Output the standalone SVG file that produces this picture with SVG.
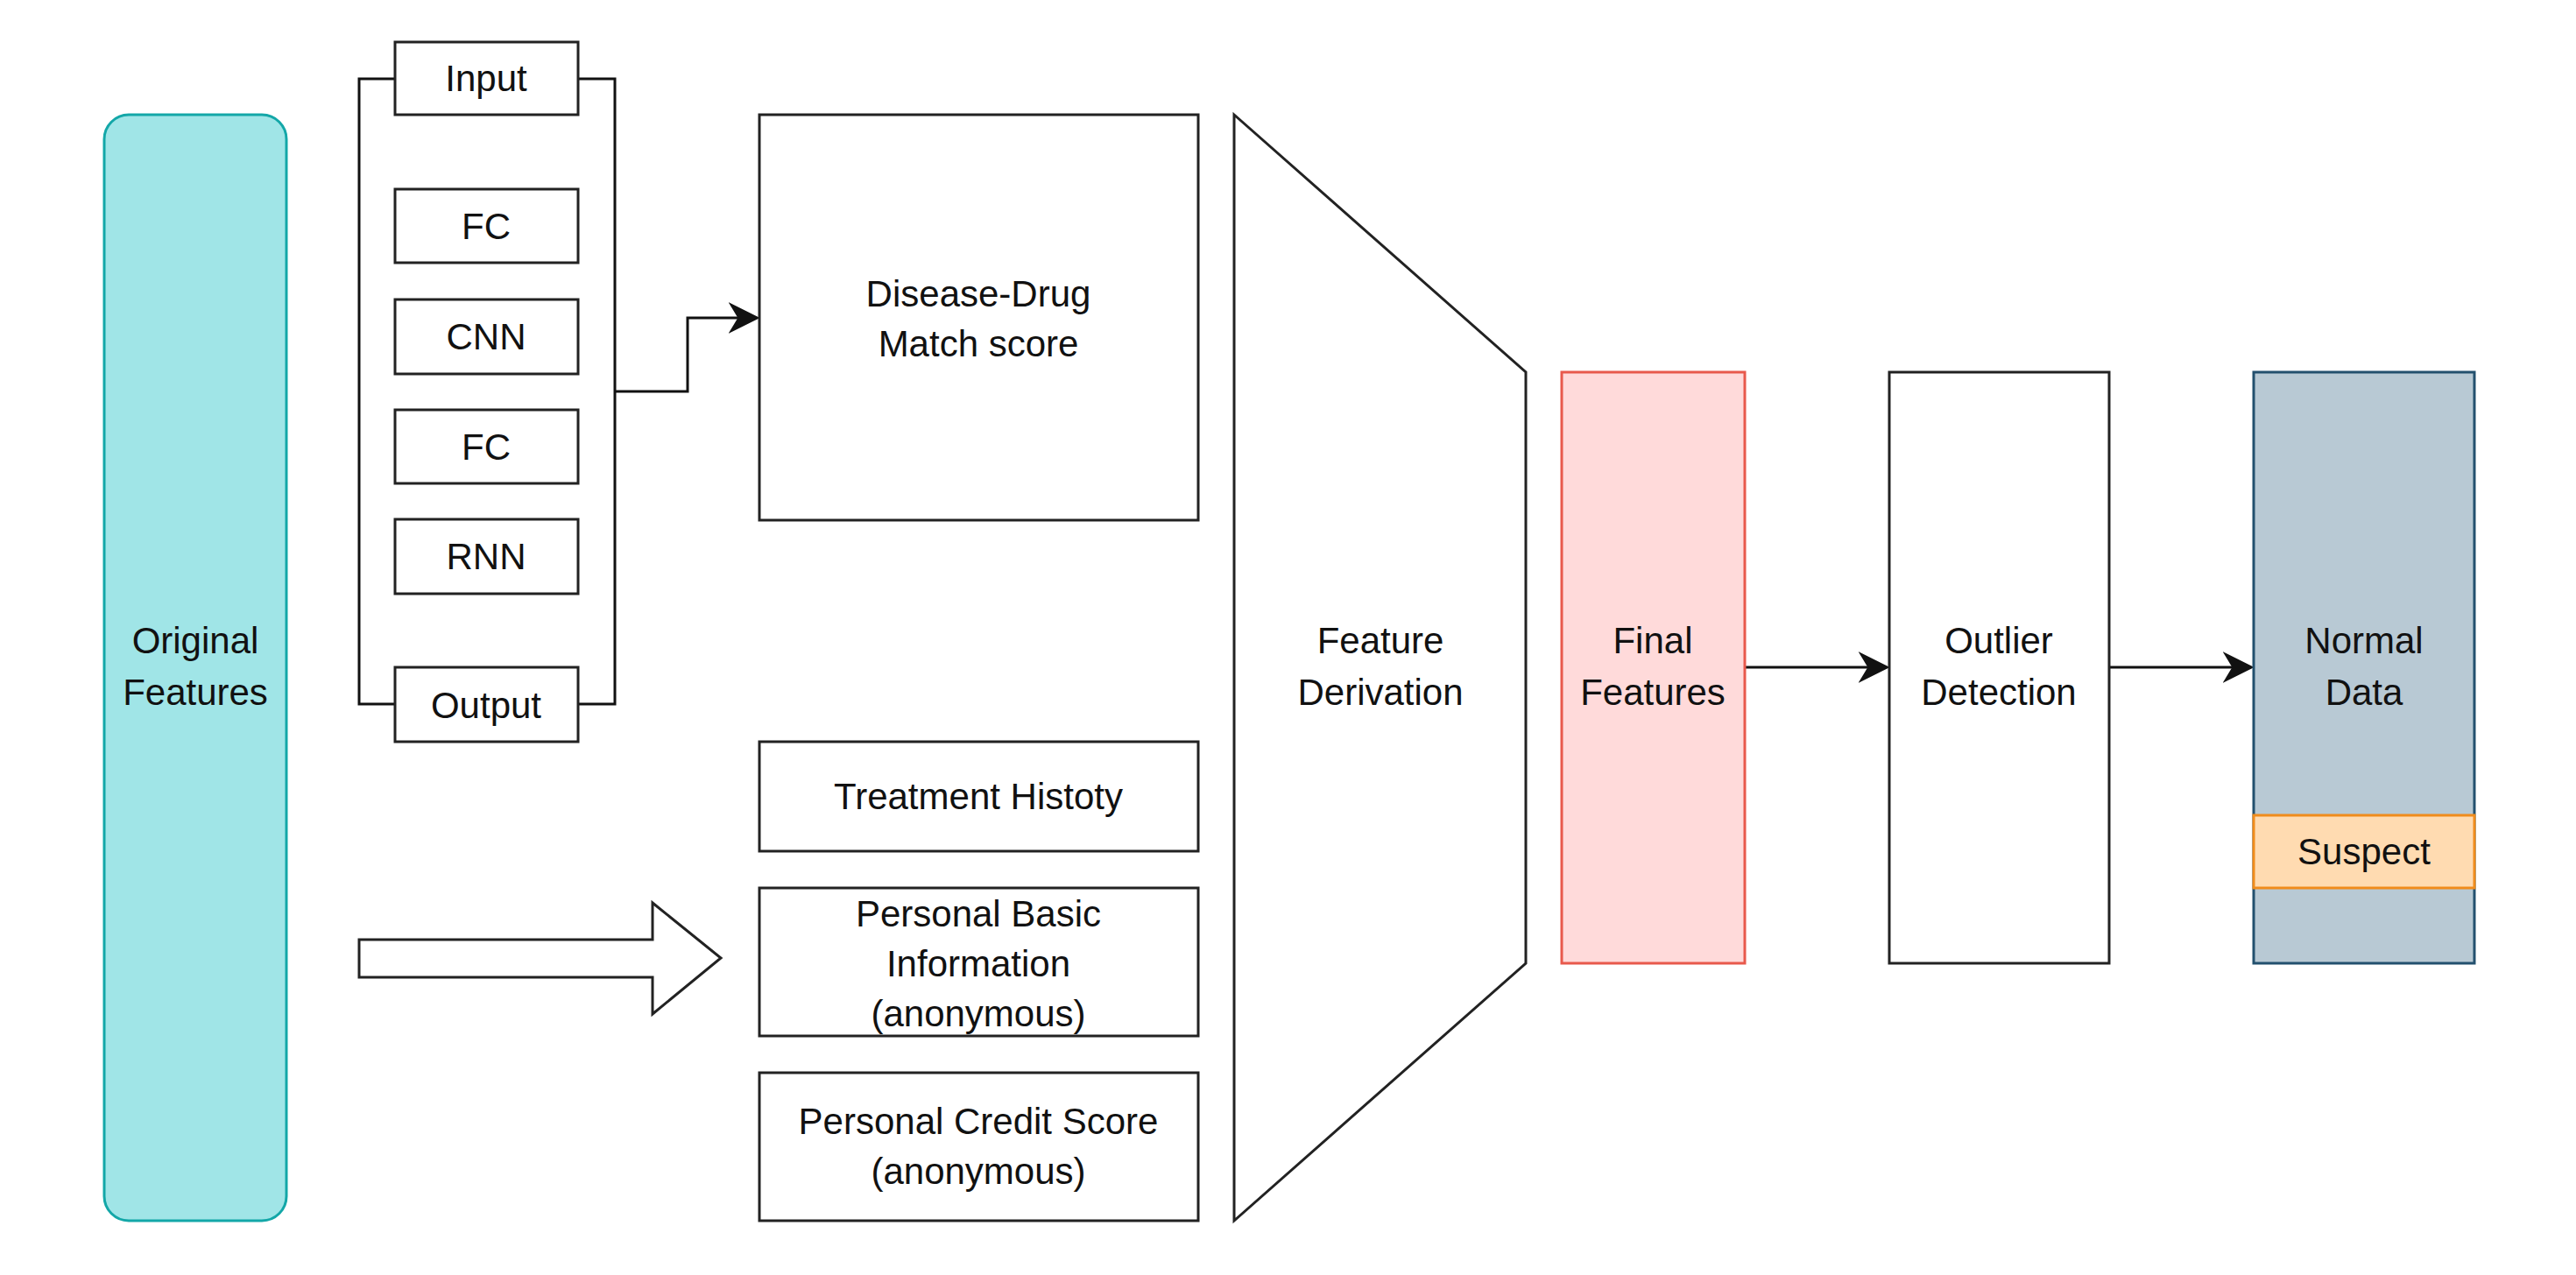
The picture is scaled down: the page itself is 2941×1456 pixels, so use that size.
<svg xmlns="http://www.w3.org/2000/svg" width="2941" height="1456" viewBox="0 0 2941 1456">
<defs>
<style>
text{font-family:"Liberation Sans",Arial,sans-serif;font-size:42px;fill:#111;text-anchor:middle}
.b{fill:#fff;stroke:#222;stroke-width:3}
.c{fill:none;stroke:#111;stroke-width:3}
</style>
<marker id="ah" viewBox="0 0 10 10" refX="9" refY="5" markerWidth="10" markerHeight="10" markerUnits="userSpaceOnUse" orient="auto"><path d="M0,0 L10,5 L0,10 L3,5 Z" fill="#111"/></marker>
<marker id="ah2" viewBox="0 0 10 10" refX="9" refY="5" markerWidth="36" markerHeight="36" markerUnits="userSpaceOnUse" orient="auto"><path d="M0,0 L10,5 L0,10 L3,5 Z" fill="#111"/></marker>
</defs>
<rect width="2941" height="1456" fill="#fff"/>
<g id="connectors">
<path class="c" d="M451,90 H410 V804 H451"/>
<path class="c" d="M660,90 H702 V804 H660"/>
<path class="c" d="M702,447 H785 V363 H864" marker-end="url(#ah2)"/>
<path class="c" d="M1992,762 H2154" marker-end="url(#ah2)"/>
<path class="c" d="M2408,762 H2570" marker-end="url(#ah2)"/>
<path d="M410,1073 H745 V1031 L823,1094 L745,1158 V1116 H410 Z" fill="#fff" stroke="#222" stroke-width="3"/>
</g>
<g id="original"><rect x="119" y="131" width="208" height="1263" rx="28" fill="#a0e5e7" stroke="#13a7a8" stroke-width="3"/><text x="223" y="746">Original</text><text x="223" y="805">Features</text></g>
<g id="input"><rect class="b" x="451" y="48" width="209" height="83"/><text x="555" y="104">Input</text></g>
<g id="fc1"><rect class="b" x="451" y="216" width="209" height="84"/><text x="555" y="273">FC</text></g>
<g id="cnn"><rect class="b" x="451" y="342" width="209" height="85"/><text x="555" y="399">CNN</text></g>
<g id="fc2"><rect class="b" x="451" y="468" width="209" height="84"/><text x="555" y="525">FC</text></g>
<g id="rnn"><rect class="b" x="451" y="593" width="209" height="85"/><text x="555" y="650">RNN</text></g>
<g id="output"><rect class="b" x="451" y="762" width="209" height="85"/><text x="555" y="820">Output</text></g>
<g id="disease"><rect class="b" x="867" y="131" width="501" height="463"/><text x="1117" y="350">Disease-Drug</text><text x="1117" y="407">Match score</text></g>
<g id="treatment"><rect class="b" x="867" y="847" width="501" height="125"/><text x="1117" y="924">Treatment Histoty</text></g>
<g id="basic"><rect class="b" x="867" y="1014" width="501" height="169"/><text x="1117" y="1058">Personal Basic</text><text x="1117" y="1115">Information</text><text x="1117" y="1172">(anonymous)</text></g>
<g id="credit"><rect class="b" x="867" y="1225" width="501" height="169"/><text x="1117" y="1295">Personal Credit Score</text><text x="1117" y="1352">(anonymous)</text></g>
<g id="derivation"><path class="b" d="M1409,131 L1742,425 V1100 L1409,1394 Z"/><text x="1576" y="746">Feature</text><text x="1576" y="805">Derivation</text></g>
<g id="final"><rect x="1783" y="425" width="209" height="675" fill="#ffdada" stroke="#e8594c" stroke-width="3"/><text x="1887" y="746">Final</text><text x="1887" y="805">Features</text></g>
<g id="outlier"><rect class="b" x="2157" y="425" width="251" height="675"/><text x="2282" y="746">Outlier</text><text x="2282" y="805">Detection</text></g>
<g id="normal"><rect x="2573" y="425" width="252" height="675" fill="#b8c9d4" stroke="#23506e" stroke-width="3"/><text x="2699" y="746">Normal</text><text x="2699" y="805">Data</text></g>
<g id="suspect"><rect x="2573" y="931" width="252" height="83" fill="#ffdbb1" stroke="#f08c1c" stroke-width="3"/><text x="2699" y="987">Suspect</text></g>
</svg>
